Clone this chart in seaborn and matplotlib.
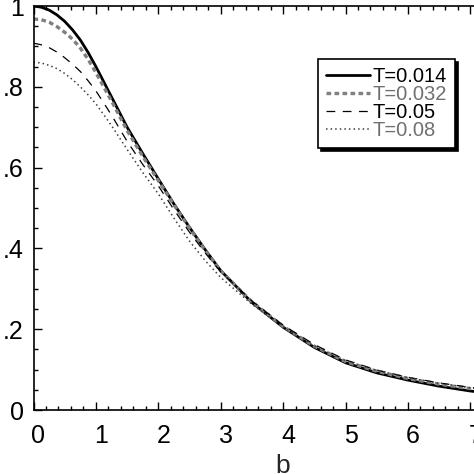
import numpy as np
import pandas as pd
import matplotlib
matplotlib.use("Agg")
import matplotlib.pyplot as plt
import matplotlib.transforms as mtransforms
from matplotlib.ticker import MultipleLocator
import seaborn as sns

# valores
b = [0, 0.125, 0.25, 0.375, 0.5, 0.625, 0.75, 0.875, 1, 1.25, 1.5, 1.75, 2, 2.25, 2.5, 2.75,
     3, 3.5, 4, 4.5, 5, 5.5, 6, 6.5, 7, 7.5]
t_014 = [1.0, 0.997, 0.99, 0.978, 0.962, 0.941, 0.916, 0.885, 0.85, 0.775, 0.70, 0.635, 0.572, 0.51, 0.452, 0.397,
         0.345, 0.266, 0.205, 0.155, 0.117, 0.092, 0.074, 0.059, 0.047, 0.038]
t_032 = [0.968, 0.966, 0.96, 0.949, 0.935, 0.918, 0.896, 0.868, 0.835, 0.765, 0.692, 0.628, 0.568, 0.508, 0.450, 0.395,
         0.344, 0.268, 0.207, 0.158, 0.120, 0.096, 0.078, 0.064, 0.053, 0.044]
t_05 = [0.908, 0.904, 0.897, 0.886, 0.872, 0.856, 0.838, 0.815, 0.79, 0.73, 0.665, 0.608, 0.555, 0.496, 0.440, 0.389,
        0.342, 0.270, 0.210, 0.162, 0.124, 0.099, 0.081, 0.067, 0.056, 0.047]
t_08 = [0.861, 0.859, 0.853, 0.845, 0.833, 0.818, 0.80, 0.78, 0.758, 0.704, 0.645, 0.588, 0.535, 0.475, 0.418, 0.37,
        0.328, 0.262, 0.205, 0.158, 0.122, 0.098, 0.080, 0.066, 0.055, 0.046]
etiquetas = ["T=0.014", "T=0.032", "T=0.05", "T=0.08"]

df = pd.DataFrame({"b": b, "T=0.014": t_014, "T=0.032": t_032, "T=0.05": t_05, "T=0.08": t_08})

sns.set_style("ticks")
plt.rcParams["font.family"] = ["Liberation Sans", "DejaVu Sans"]

fig = plt.figure(figsize=(4.74, 4.74), dpi=100)
# ejes recortados: el borde derecho queda fuera de la imagen
ax = fig.add_axes([33.5 / 474, 64 / 474, 8 * 62.4 / 474, 404 / 474])

estilos = [
    dict(color="black", linewidth=2.0, linestyle="-"),
    dict(color="#808080", linewidth=2.4, linestyle=(0, (1.4, 1.0))),
    dict(color="black", linewidth=0.9, linestyle=(0, (7, 6))),
    dict(color="#404040", linewidth=1.1, linestyle=(0, (1, 2))),
]
for nombre, est in zip(etiquetas, estilos):
    sns.lineplot(data=df, x="b", y=nombre, ax=ax, label=nombre, **est)

ax.set_xlim(0, 8)
ax.set_ylim(0, 1)
ax.xaxis.set_minor_locator(MultipleLocator(0.2))
ax.yaxis.set_minor_locator(MultipleLocator(0.05))
ax.set_yticks([0, 0.2, 0.4, 0.6, 0.8, 1.0])
ax.set_yticklabels(["0", ".2", ".4", ".6", ".8", "1"])
ax.set_xticks(range(0, 8))
ax.set_xticklabels([str(i) for i in range(0, 8)])

ax.tick_params(which="both", direction="in", top=True, right=True, width=1, colors="black")
ax.tick_params(which="major", length=6, labelsize=18, pad=10)
ax.tick_params(axis="y", which="major", pad=7)
ax.tick_params(which="minor", length=3)
for s in ax.spines.values():
    s.set_linewidth(1.2)
    s.set_color("black")

offset = mtransforms.ScaledTranslation(5 / 100, 0, fig.dpi_scale_trans)
for lab in ax.get_xticklabels():
    lab.set_transform(lab.get_transform() + offset)

ax.set_xlabel("b", fontsize=19)
ax.set_ylabel("")
ax.xaxis.set_label_coords(0.5, -0.108)

leg = ax.legend(loc="upper left", bbox_to_anchor=(318 / 474, 1 - 59 / 474),
                bbox_transform=fig.transFigure, borderaxespad=0, fontsize=14.5,
                handlelength=2.2, handletextpad=0.1, labelspacing=-0.05,
                borderpad=0.4, fancybox=False, frameon=True,
                shadow={"color": "black", "alpha": 1})
leg.get_frame().set_edgecolor("black")
leg.get_frame().set_linewidth(1.2)
for txt, c in zip(leg.get_texts(), ["black", "#707070", "black", "#707070"]):
    txt.set_color(c)

fig.savefig("out.png", dpi=100)
